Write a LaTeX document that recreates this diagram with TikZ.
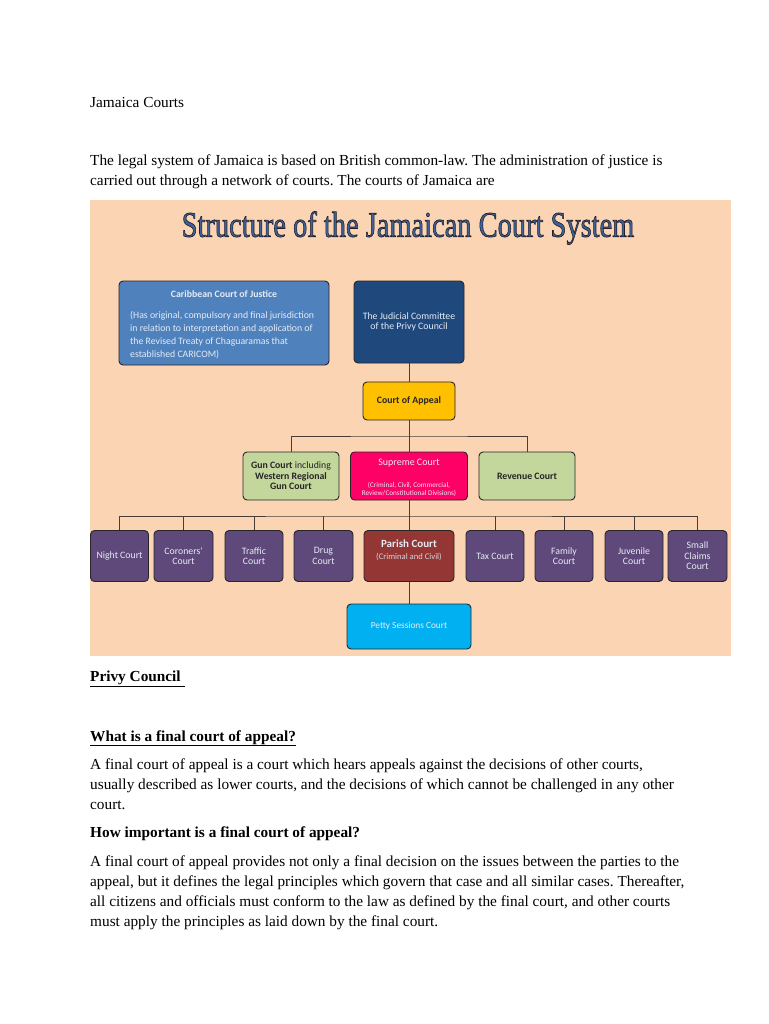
\documentclass[tikz,border=0pt]{standalone}
\usepackage{fontspec}
\setmainfont{Liberation Serif}
\newfontfamily\carl{Carlito}
\definecolor{peach}{HTML}{FBD4B4}
\definecolor{ccjblue}{HTML}{4F81BD}
\definecolor{navy}{HTML}{1F497D}
\definecolor{gold}{HTML}{FFC000}
\definecolor{lgreen}{HTML}{C3D69B}
\definecolor{pinkred}{HTML}{FF0066}
\definecolor{purp}{HTML}{5F497A}
\definecolor{brick}{HTML}{943634}
\definecolor{cyanb}{HTML}{00B0F0}
\definecolor{linec}{HTML}{4A3C36}
\definecolor{titleblue}{HTML}{3F6296}
\definecolor{paletxt}{HTML}{E4ECF6}
\newcommand{\outlined}[1]{\special{pdf:literal direct 2 Tr 0.7 w 0.12 0.12 0.18 RG}#1\special{pdf:literal direct 0 Tr}}
\tikzset{
  court/.style={draw=black!85, line width=0.9pt, rounded corners=4pt, inner sep=0pt, align=center,
    font=\carl\fontsize{9.8}{10.5}\selectfont},
  purplebox/.style={court, fill=purp, text=paletxt, minimum height=51pt},
  greenbox/.style={court, fill=lgreen, text=black!85, minimum width=96pt, minimum height=48pt},
  link/.style={draw=linec, line width=0.9pt},
  body/.style={anchor=base west, inner sep=0pt, align=left, font=\fontsize{15.3}{20}\selectfont},
  bodyb/.style={body, font=\bfseries\fontsize{15.3}{20}\selectfont},
}
\begin{document}
\frenchspacing
\begin{tikzpicture}[x=1pt,y=-1pt]
\useasboundingbox[fill=white] (0,0) rectangle (768,1024);
% header text
\node[body] (h1) at (90,107.5) {Jamaica Courts};
\node[body] (p1) at (90,186) {The legal system of Jamaica is based on British common-law. The administration of justice is\\carried out through a network of courts. The courts of Jamaica are};
% diagram background
\fill[peach] (90,200) rectangle (731,656);
\node[inner sep=0pt, text=titleblue, font=\fontsize{36}{40}\selectfont] (title) at (408,228)
  {\scalebox{0.79}[1]{\outlined{Structure of the Jamaican Court System}}};
% top row
\node[court, fill=ccjblue, minimum width=210pt, minimum height=84pt] (ccj) at (224,323) {};
\node[inner sep=0pt, text=paletxt, font=\carl\bfseries\fontsize{9.8}{10}\selectfont] (ccjt) at (224,294) {Caribbean Court of Justice};
\node[inner sep=0pt, anchor=north west, text=paletxt, align=left, font=\carl\fontsize{9.8}{13}\selectfont] (ccjb) at (130,311)
  {(Has original, compulsory and final jurisdiction\\in relation to interpretation and application of\\the Revised Treaty of Chaguaramas that\\established CARICOM)};
\node[court, fill=navy, text=paletxt, minimum width=110pt, minimum height=82pt] (jcpc) at (409,322)
  {The Judicial Committee\\of the Privy Council};
\node[court, fill=gold, text=black!85, font=\carl\bfseries\fontsize{9.8}{10}\selectfont, minimum width=92pt, minimum height=38pt] (coa) at (409,401) {Court of Appeal};
% second row
\node[greenbox] (gun) at (291,476) {\textbf{Gun Court} including\\\textbf{Western Regional}\\\textbf{Gun Court}};
\node[court, fill=pinkred, minimum width=117pt, minimum height=48pt] (sup) at (409,476) {};
\node[inner sep=0pt, text=paletxt, font=\carl\fontsize{10}{10}\selectfont] (supt) at (409,463) {Supreme Court};
\node[inner sep=0pt, text=paletxt, align=center, font=\carl\fontsize{7.2}{7.6}\selectfont] (supb) at (409,489.5) {(Criminal, Civil, Commercial,\\Review/Constitutional Divisions)};
\node[greenbox, font=\carl\bfseries\fontsize{9.8}{10}\selectfont] (rev) at (527,476) {Revenue Court};
% bottom row
\node[purplebox, minimum width=58pt] (night) at (119.5,556) {Night Court};
\node[purplebox, minimum width=59pt] (coro) at (183.5,556) {Coroners'\\Court};
\node[purplebox, minimum width=58pt] (traf) at (254,556) {Traffic\\Court};
\node[purplebox, minimum width=59pt] (drug) at (323.5,556) {Drug\\Court};
\node[court, fill=brick, minimum width=90pt, minimum height=51pt] (par) at (409,556) {};
\node[inner sep=0pt, text=paletxt, font=\carl\bfseries\fontsize{11}{11}\selectfont] (part) at (409,544) {Parish Court};
\node[inner sep=0pt, text=paletxt!85!brick, font=\carl\fontsize{8.6}{9}\selectfont] (parb) at (409,556.5) {(Criminal and Civil)};
\node[purplebox, minimum width=58pt] (tax) at (495,556) {Tax Court};
\node[purplebox, minimum width=58pt] (fam) at (564,556) {Family\\Court};
\node[purplebox, minimum width=58pt] (juv) at (634,556) {Juvenile\\Court};
\node[purplebox, minimum width=59pt] (small) at (697.5,556) {Small\\Claims\\Court};
\node[court, fill=cyanb, text=paletxt, font=\carl\fontsize{9.3}{10}\selectfont, minimum width=124pt, minimum height=45pt] (petty) at (409,626.5) {Petty Sessions Court};
% connectors
\coordinate (bar1) at (409,436);
\coordinate (bar2) at (409,516);
\draw[link] (jcpc.south) -- (coa.north);
\draw[link] (coa.south) -- (sup.north);
\draw[link] (gun.north) |- (bar1) -| (rev.north);
\draw[link] (sup.south) -- (par.north);
\draw[link] (night.north) |- (bar2) -| (small.north);
\foreach \n in {coro,traf,drug,tax,fam,juv} { \draw[link] (\n.north) -- (\n.north |- bar2); }
\draw[link] (par.south) -- (petty.north);
% lower text
\node[bodyb] (s1) at (90,681) {\underline{Privy Council\ }};
\node[bodyb] (s2) at (90,741) {\underline{What is a final court of appeal?}};
\node[body] (p2) at (90,809) {A final court of appeal is a court which hears appeals against the decisions of other courts,\\usually described as lower courts, and the decisions of which cannot be challenged in any other\\court.};
\node[bodyb] (s3) at (90,837) {How important is a final court of appeal?};
\node[body] (p3) at (90,926) {A final court of appeal provides not only a final decision on the issues between the parties to the\\appeal, but it defines the legal principles which govern that case and all similar cases. Thereafter,\\all citizens and officials must conform to the law as defined by the final court, and other courts\\must apply the principles as laid down by the final court.};
\end{tikzpicture}
\end{document}
